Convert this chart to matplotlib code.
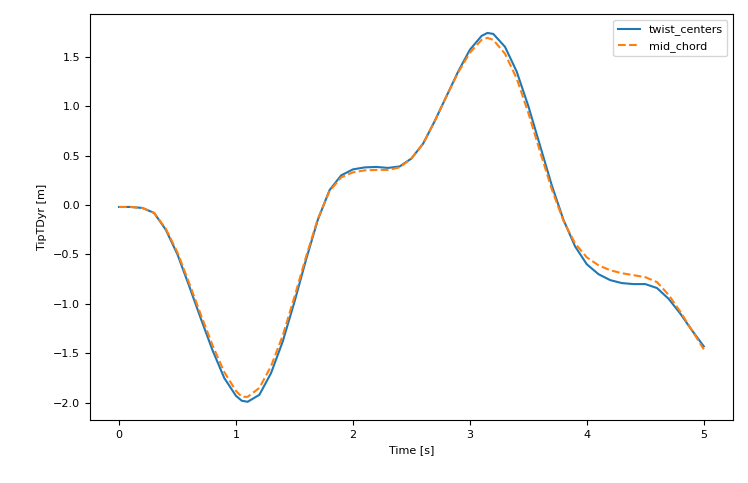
import numpy as np
import matplotlib.pyplot as plt

plt.rcParams['font.size'] = 8

time = [0.0, 0.1, 0.2, 0.3, 0.4, 0.5, 0.6, 0.7, 0.8, 0.9, 1.0, 1.05, 1.1, 1.2, 1.3, 1.4, 1.5,
        1.6, 1.7, 1.8, 1.9, 2.0, 2.1, 2.2, 2.3, 2.4, 2.5, 2.6, 2.7, 2.8, 2.9, 3.0, 3.1,
        3.15, 3.2, 3.3, 3.4, 3.5, 3.6, 3.7, 3.8, 3.9, 4.0, 4.1, 4.2, 4.3, 4.4, 4.5, 4.6,
        4.7, 4.8, 4.9, 5.0]
twist_centers = [-0.02, -0.02, -0.03, -0.08, -0.25, -0.5, -0.82, -1.15, -1.47, -1.75, -1.93,
                 -1.98, -1.99, -1.92, -1.7, -1.38, -0.98, -0.55, -0.15, 0.15, 0.3, 0.36, 0.38,
                 0.385, 0.375, 0.39, 0.47, 0.62, 0.85, 1.1, 1.35, 1.57, 1.71, 1.74, 1.73, 1.6,
                 1.35, 1.0, 0.6, 0.2, -0.15, -0.42, -0.6, -0.7, -0.76, -0.79, -0.8, -0.8,
                 -0.84, -0.95, -1.1, -1.27, -1.43]
mid_chord = [-0.02, -0.02, -0.03, -0.08, -0.24, -0.48, -0.79, -1.11, -1.42, -1.69, -1.88,
             -1.94, -1.94, -1.85, -1.63, -1.32, -0.93, -0.52, -0.14, 0.14, 0.28, 0.33, 0.35,
             0.355, 0.355, 0.38, 0.47, 0.62, 0.85, 1.1, 1.34, 1.54, 1.67, 1.69, 1.67, 1.53,
             1.28, 0.93, 0.54, 0.16, -0.16, -0.39, -0.53, -0.61, -0.66, -0.69, -0.71, -0.73,
             -0.78, -0.91, -1.08, -1.27, -1.46]

fig, ax = plt.subplots(figsize=(7.48, 4.83), dpi=100)
ax.plot(time, twist_centers, label='twist_centers')
ax.plot(time, mid_chord, '--', label='mid_chord')
ax.set_xlabel('Time [s]')
ax.set_ylabel('TipTDyr [m]')
ax.legend(loc='upper right')
fig.subplots_adjust(left=0.12, right=0.98, top=0.97, bottom=0.13)
fig.savefig('out.png')
